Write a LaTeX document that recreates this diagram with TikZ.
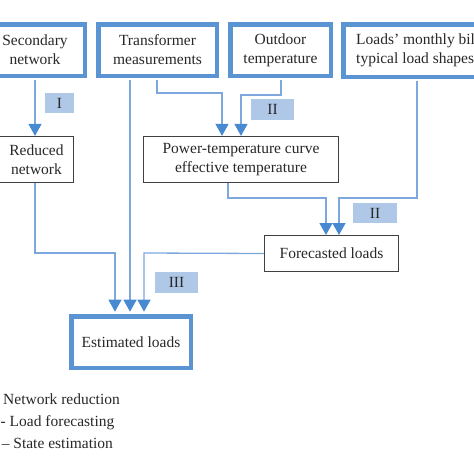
\documentclass[tikz,border=0pt]{standalone}
\usepackage{fontspec}
\setmainfont{Liberation Serif}
\usetikzlibrary{arrows.meta}
\definecolor{boxblue}{RGB}{91,148,210}
\definecolor{lineblue}{RGB}{125,168,222}
\definecolor{tipblue}{RGB}{72,138,210}
\definecolor{labfill}{RGB}{176,200,232}
\definecolor{txt}{RGB}{40,40,40}
\begin{document}
\begin{tikzpicture}[x=1pt,y=-1pt,
  every node/.style={text=txt,font=\fontsize{15.5}{19}\selectfont},
  thickbox/.style={draw=boxblue,line width=4.5pt,fill=white,align=center,inner sep=0pt},
  thinbox/.style={draw=black!75,line width=1.2pt,fill=white,align=center,inner sep=0pt},
  tag/.style={fill=labfill,inner sep=0pt},
  conn/.style={draw=lineblue,line width=1.3pt,-{Triangle[width=13pt,length=12pt,fill=tipblue,color=tipblue]}},
  fromthick/.style={shorten <=2.3pt}]
\useasboundingbox (0,0) rectangle (474,474);
\clip (0,0) rectangle (474,474);
% top row
\node[thickbox,minimum width=99.5pt,minimum height=51.5pt] (sec) at (35,50) {Secondary\\network};
\node[thickbox,minimum width=118.5pt,minimum height=51.5pt] (trm) at (157.5,50) {Transformer\\measurements};
\node[thickbox,minimum width=100.5pt,minimum height=51.5pt] (out) at (280.5,50) {Outdoor\\temperature};
\node[thickbox,minimum width=254.5pt,minimum height=52.5pt] (lds) at (470.5,50.5) {};
\node[anchor=west,align=left,inner sep=0pt] (ldstext) at (356,50.5) {Loads’ monthly bil\\typical load shapes};
% middle
\node[thinbox,minimum width=74pt,minimum height=46pt] (red) at (36.5,159.5) {Reduced\\network};
\node[thinbox,minimum width=194.5pt,minimum height=46pt] (ptc) at (241,159.5) {Power-temperature curve\\effective temperature};
\node[thinbox,minimum width=133.8pt,minimum height=35.8pt] (fcl) at (331.5,253.5) {Forecasted loads};
\node[thickbox,minimum width=119.5pt,minimum height=51.5pt] (est) at (131,342) {Estimated loads};
% tags
\node[tag,minimum width=29pt,minimum height=20pt] (tI) at (59.5,103) {I};
\node[tag,minimum width=43pt,minimum height=21pt] (tII) at (272.5,109.5) {II};
\node[tag,minimum width=44pt,minimum height=20pt] (tIIb) at (375,213) {II};
\node[tag,minimum width=43pt,minimum height=21pt] (tIII) at (176.5,282.5) {III};
% turning points
\coordinate (c1) at (157,93);
\coordinate (c2) at (222,93);
\coordinate (c3) at (281,95);
\coordinate (c4) at (241,95);
\coordinate (c5) at (417,198);
\coordinate (c6) at (339,198);
\coordinate (c7) at (228,198);
\coordinate (c8) at (326,198);
\coordinate (c9) at (130,200);
\coordinate (c10) at (35,253);
\coordinate (c11) at (115,253);
\coordinate (c12) at (144,253);
% connectors
\draw[conn,fromthick] (sec.south) -- (sec.south |- red.north);
\draw[conn,fromthick] (c1 |- trm.south) -- (c1) -- (c2) -- (c2 |- ptc.north);
\draw[conn,fromthick] (c3 |- out.south) -- (c3) -- (c4) -- (c4 |- ptc.north);
\draw[conn,fromthick] (c5 |- lds.south) -- (c5) -- (c6) -- (c6 |- fcl.north);
\draw[conn] (c7 |- ptc.south) -- (c7) -- (c8) -- (c8 |- fcl.north);
\draw[conn,fromthick,shorten >=2.3pt] (c9 |- trm.south) -- (c9 |- est.north);
\draw[conn,shorten >=2.3pt] (c10 |- red.south) -- (c10) -- (c11) -- (c11 |- est.north);
\draw[conn,shorten >=2.3pt] (fcl.west) -- (c12) -- (c12 |- est.north);
% legend
\node[anchor=base west,inner sep=0pt] (lg1) at (3,404.5) {Network reduction};
\node[anchor=base west,inner sep=0pt] (lg2) at (0.5,426.5) {- Load forecasting};
\node[anchor=base west,inner sep=0pt] (lg3) at (1.6,448.5) {– State estimation};
\end{tikzpicture}
\end{document}
